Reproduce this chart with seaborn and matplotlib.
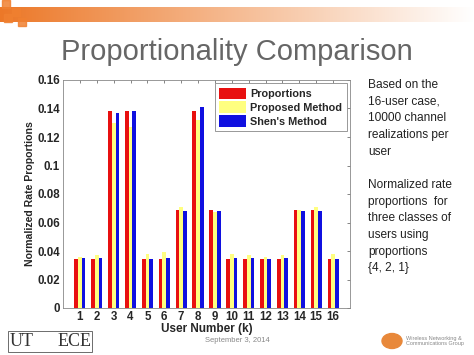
import numpy as np
import pandas as pd
import matplotlib
matplotlib.use("Agg")
import matplotlib.pyplot as plt
from matplotlib.patches import Rectangle, Circle
import seaborn as sns

users = [str(k) for k in range(1, 17)]
methods = ["Proportions", "Proposed Method", "Shen's Method"]
proportions = [0.0345, 0.0345, 0.138, 0.138, 0.0345, 0.0345, 0.069, 0.138,
               0.069, 0.0345, 0.0345, 0.0345, 0.0345, 0.069, 0.069, 0.0345]
proposed = [0.036, 0.037, 0.130, 0.127, 0.038, 0.0395, 0.071, 0.132,
            0.0675, 0.038, 0.037, 0.036, 0.037, 0.069, 0.071, 0.038]
shen = [0.0348, 0.0348, 0.137, 0.138, 0.0343, 0.0348, 0.0684, 0.141,
        0.0684, 0.0348, 0.0348, 0.0343, 0.0348, 0.068, 0.0684, 0.0343]
colors = ["#e81010", "#ffff80", "#1010e0"]

side_text = ("Based on the\n16-user case,\n10000 channel\nrealizations per\nuser\n\n"
             "Normalized rate\nproportions  for\nthree classes of\nusers using\nproportions\n{4, 2, 1}")

df = pd.DataFrame({
    "user": users * 3,
    "value": proportions + proposed + shen,
    "method": np.repeat(methods, len(users)),
})

sns.set_style("white")
plt.rcParams["font.family"] = ["Liberation Sans", "DejaVu Sans"]

fig = plt.figure(figsize=(4.74, 3.55), dpi=100)

# orange header band
band = fig.add_axes([0, 1 - 22 / 355, 1, 15 / 355])
grad = np.linspace(0, 1, 256)[None, :]
orange = np.array([236, 120, 40]) / 255
img = orange[None, None, :] * (1 - grad[..., None]) + grad[..., None]
band.imshow(img, aspect="auto", extent=(0, 1, 0, 1))
band.axis("off")
for (x, y, w, h) in [(2, 0, 8, 8), (12, 8, 8, 8), (4, 14, 8, 8), (18, 18, 8, 8)]:
    fig.patches.append(Rectangle((x / 474, 1 - (y + h) / 355), w / 474, h / 355,
                                 transform=fig.transFigure, color="#f08030", alpha=0.85))

fig.text(0.5, 1 - 52 / 355, "Proportionality Comparison", ha="center", va="center",
         fontsize=21, color="#666666")

ax = fig.add_axes([63 / 474, 47 / 355, 287 / 474, 228 / 355])
sns.barplot(data=df, x="user", y="value", hue="method", hue_order=methods,
            palette=colors, saturation=1, width=0.66, ax=ax, errorbar=None)
for p in ax.patches:
    p.set_edgecolor("none")

ax.set_xlim(-1, 16)
ax.set_ylim(0, 0.16)
yt = np.arange(0, 0.161, 0.02)
ax.set_yticks(yt)
ax.set_yticklabels(["0"] + [f"{v:g}" for v in yt[1:]])
ax.tick_params(direction="in", length=2, width=0.5, top=True, right=True,
               labelsize=8.3, pad=2, color="#555555")
for lab in ax.get_xticklabels() + ax.get_yticklabels():
    lab.set_fontweight("bold")
ax.set_xlabel("User Number (k)", fontsize=8.5, fontweight="bold", labelpad=0)
ax.set_ylabel("Normalized Rate Proportions", fontsize=7.6, fontweight="bold", labelpad=2)
for s in ax.spines.values():
    s.set_linewidth(0.6)
    s.set_color("#888888")

leg = ax.legend(loc="upper right", prop={"weight": "bold", "size": 7.8},
                handlelength=2.5, handleheight=1.2, borderpad=0.4, labelspacing=0.25,
                handletextpad=0.4, fancybox=False, framealpha=1, borderaxespad=0.3)
leg.get_frame().set_edgecolor("#888888")
leg.get_frame().set_linewidth(0.6)

fig.text(368 / 474, 1 - 79 / 355, side_text, ha="left", va="top", fontsize=8.6,
         color="#222222", linespacing=1.52)

# footer
fig.text(0.5, 1 - 340 / 355, "September 3, 2014", ha="center", va="center",
         fontsize=5.5, color="#888888")
fig.text(10 / 474, 1 - 342 / 355, "UT", fontsize=13, family="Liberation Serif",
         color="#333333", va="center", ha="left")
fig.text(58 / 474, 1 - 342 / 355, "ECE", fontsize=13, family="Liberation Serif",
         color="#333333", va="center", ha="left")
fig.patches.append(Rectangle((8 / 474, 1 - 352 / 355), 84 / 474, 21 / 355,
                             transform=fig.transFigure, fill=False, ec="#555555", lw=0.6))
fig.patches.append(Circle((392 / 474, 1 - 341 / 355), 10 / 474, transform=fig.transFigure,
                          color="#e8883a"))
fig.text(406 / 474, 1 - 341 / 355, "Wireless Networking &\nCommunications Group",
         fontsize=4, color="#888888", va="center", ha="left", linespacing=1.2)

fig.savefig("out.png", dpi=100)
